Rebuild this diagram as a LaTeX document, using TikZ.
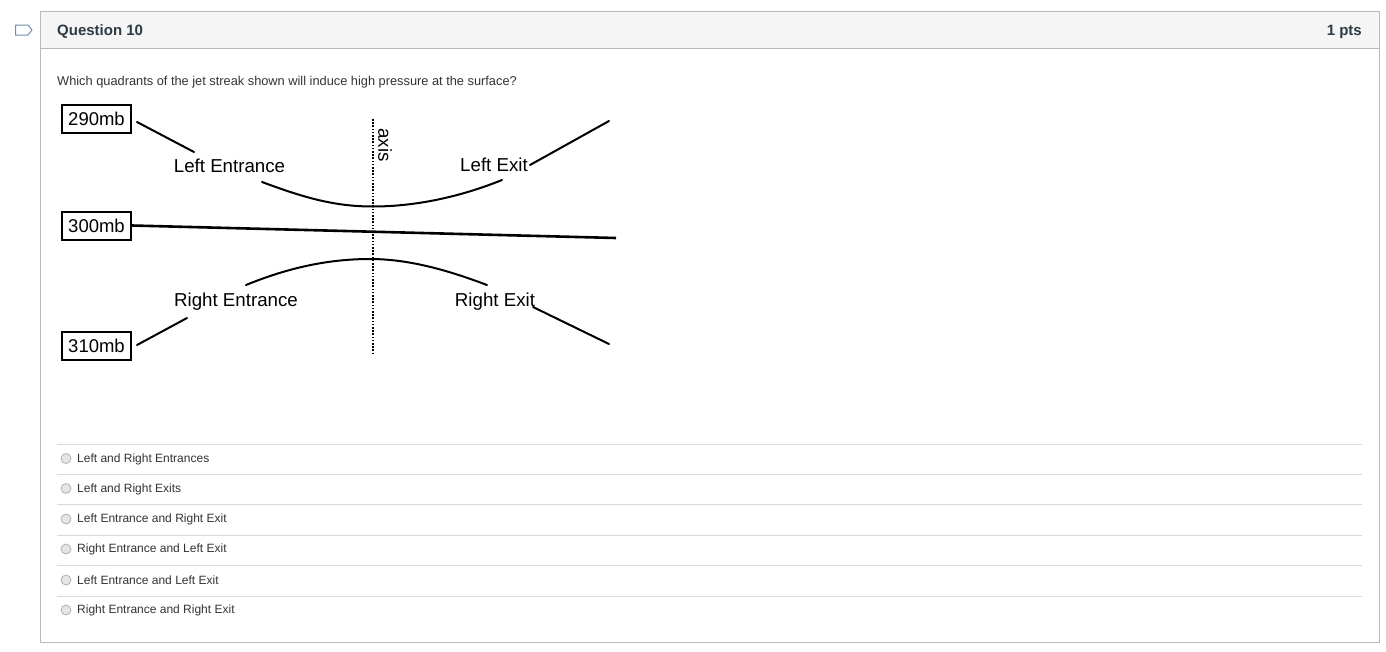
\documentclass[tikz,border=0pt]{standalone}
\usepackage{fontspec}
\setmainfont{Liberation Sans}
\begin{document}
\begin{tikzpicture}[x=1pt,y=-1pt,
  mbbox/.style={draw=black,line width=2pt,inner sep=0pt,minimum width=69pt,minimum height=28pt,font=\fontsize{18.5}{20}\selectfont},
  lbl/.style={font=\fontsize{18.7}{20}\selectfont,inner sep=0pt},
  jet/.style={line width=2pt,line cap=round},
  row/.style={draw=gray!30,line width=1pt},
  radio/.style={circle,draw=gray!65,fill=gray!20,minimum size=10pt,inner sep=0pt,line width=0.7pt},
  ans/.style={anchor=west,font=\fontsize{12}{14}\selectfont,text=black!80,inner sep=0pt}]
\useasboundingbox (0,0) rectangle (1386,651);
\fill[white] (0,0) rectangle (1386,651);
% frame
\fill[gray!8] (40,11) rectangle (1379,48);
\draw[gray!55,line width=1pt] (40,11) rectangle (1379,642);
\draw[gray!55,line width=1pt] (40,48) -- (1379,48);
% flag icon
\draw[color={rgb,255:red,110;green,140;blue,170},line width=1pt,line join=round] (15.5,25) -- (28,25) -- (32,30) -- (28,35) -- (15.5,35) -- cycle;
\node[anchor=west,inner sep=0pt,font=\fontsize{15}{16}\selectfont\bfseries,text={rgb,255:red,45;green,59;blue,69}] (qtitle) at (57,31.5) {Question 10};
\node[anchor=east,inner sep=0pt,font=\fontsize{15}{16}\selectfont\bfseries,text={rgb,255:red,45;green,59;blue,69}] (pts) at (1362,31.5) {1 pts};
\node[anchor=west,inner sep=0pt,font=\fontsize{12.8}{14}\selectfont,text=black!80] (question) at (57,82.5) {Which quadrants of the jet streak shown will induce high pressure at the surface?};
% diagram
\node[mbbox] (b290) at (96.5,119) {290mb};
\node[mbbox] (b300) at (96.5,225.5) {300mb};
\node[mbbox] (b310) at (96.5,345.5) {310mb};
\draw[line width=1.3pt,dash pattern=on 1.6pt off 1.6pt] (373,119) coordinate (axtop) -- (373,353) coordinate (axbot);
\node[lbl,rotate=-90] (axis) at (385,145) {axis};
\node[lbl] (le) at (229.5,166) {Left Entrance};
\node[lbl] (lx) at (494,165) {Left Exit};
\node[lbl] (re) at (236,302) {Right Entrance};
\node[lbl] (rx) at (495,302) {Right Exit};
% 290 lines
\coordinate (u1) at (137,122); \coordinate (u2) at (194,152);
\draw[jet] (u1) -- (u2);
\coordinate (u3) at (262,182); \coordinate (u4) at (373,206.5); \coordinate (u5) at (502,180);
\draw[jet] (u3) .. controls (305,198) and (335,206.5) .. (u4) .. controls (415,206.5) and (460,197) .. (u5);
\coordinate (u6) at (530,165); \coordinate (u7) at (609,121);
\draw[jet] (u6) -- (u7);
% 300 line
\coordinate (m1) at (616,238);
\draw[line width=2.6pt] (b300.east) -- (m1);
% 310 lines
\coordinate (d1) at (137,345); \coordinate (d2) at (187,318);
\draw[jet] (d1) -- (d2);
\coordinate (d3) at (246,285); \coordinate (d4) at (370,259); \coordinate (d5) at (487,285);
\draw[jet] (d3) .. controls (290,267) and (330,259) .. (d4) .. controls (410,259) and (450,271) .. (d5);
\coordinate (d6) at (533,307); \coordinate (d7) at (609,344);
\draw[jet] (d6) -- (d7);
% answers
\foreach \y in {444,474,504.5,535,565.5,596} \draw[row] (57,\y) -- (1362,\y);
\node[radio] (r1) at (66,458.5) {}; \node[ans] (a1) at (77,459) {Left and Right Entrances};
\node[radio] (r2) at (66,488.5) {}; \node[ans] (a2) at (77,489) {Left and Right Exits};
\node[radio] (r3) at (66,519) {}; \node[ans] (a3) at (77,519.5) {Left Entrance and Right Exit};
\node[radio] (r4) at (66,549) {}; \node[ans] (a4) at (77,549.5) {Right Entrance and Left Exit};
\node[radio] (r5) at (66,580) {}; \node[ans] (a5) at (77,580.5) {Left Entrance and Left Exit};
\node[radio] (r6) at (66,610) {}; \node[ans] (a6) at (77,610.5) {Right Entrance and Right Exit};
\end{tikzpicture}
\end{document}
